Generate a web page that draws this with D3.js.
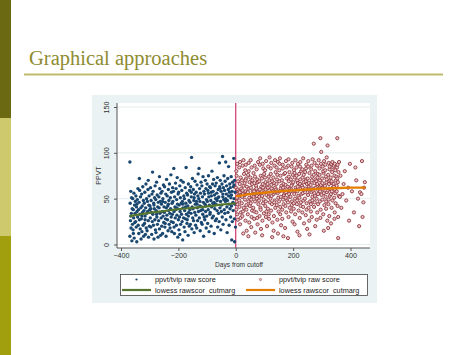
<!DOCTYPE html>
<html>
<head>
<meta charset="utf-8">
<script src="https://cdn.jsdelivr.net/npm/d3@7"></script>
<style>
  body { margin: 0; background: #fff; }
  svg { display: block; }
</style>
</head>
<body>
<div id="chart"></div>
<script>

// data
const slideTitle = "Graphical approaches";
const yTicks = [0, 50, 100, 150];
const xTicks = [-400, -200, 0, 200, 400];
const yLabel = "PPVT";
const xLabel = "Days from cutoff";
const legendLabels = ["ppvt/tvip raw score", "lowess rawscor  cutmarg"];

// [days from cutoff, raw score] before the cutoff
const leftScores = [
[-369,9],[-368,45],[-367,26],[-366,58],[-365,18],[-364,34],[-363,51],[-362,4],[-361,39],[-360,22],[-369,90],[-366,31],
[-359,50],[-358,16],[-357,38],[-356,29],[-355,56],[-354,7],[-353,43],[-352,24],[-351,34],[-350,47],[-357,12],
[-349,25],[-348,53],[-347,19],[-346,41],[-345,3],[-344,36],[-343,49],[-342,30],[-341,61],[-340,21],[-345,44],
[-339,38],[-338,12],[-337,46],[-336,27],[-335,59],[-334,33],[-333,17],[-332,52],[-331,40],[-330,6],[-336,72],
[-329,28],[-328,55],[-327,14],[-326,42],[-325,35],[-324,63],[-323,21],[-322,48],[-321,9],[-320,37],[-327,31],
[-319,45],[-318,23],[-317,57],[-316,31],[-315,11],[-314,40],[-313,66],[-312,18],[-311,50],[-310,34],[-316,27],
[-309,15],[-308,47],[-307,36],[-306,60],[-305,26],[-304,8],[-303,43],[-302,53],[-301,20],[-300,38],[-305,70],
[-299,42],[-298,29],[-297,62],[-296,19],[-295,48],[-294,35],[-293,11],[-292,55],[-291,25],[-290,79],[-296,39],
[-289,33],[-288,58],[-287,21],[-286,45],[-285,6],[-284,39],[-283,51],[-282,27],[-281,64],[-280,16],[-285,43],
[-279,49],[-278,13],[-277,37],[-276,68],[-275,30],[-274,54],[-273,22],[-272,41],[-271,8],[-270,46],[-276,33],
[-269,26],[-268,52],[-267,40],[-266,17],[-265,61],[-264,34],[-263,47],[-262,10],[-261,56],[-260,29],[-266,74],
[-259,44],[-258,20],[-257,58],[-256,36],[-255,12],[-254,50],[-253,31],[-252,65],[-251,24],[-250,41],[-255,47],
[-249,35],[-248,63],[-247,19],[-246,46],[-245,28],[-244,55],[-243,9],[-242,40],[-241,71],[-240,32],[-246,23],
[-239,53],[-238,27],[-237,42],[-236,15],[-235,60],[-234,37],[-233,48],[-232,22],[-231,66],[-230,34],[-235,44],
[-229,18],[-228,51],[-227,39],[-226,76],[-225,30],[-224,57],[-223,14],[-222,45],[-221,33],[-220,62],[-225,25],
[-219,47],[-218,24],[-217,58],[-216,83],[-215,36],[-214,12],[-213,52],[-212,41],[-211,29],[-210,67],[-215,19],
[-209,38],[-208,61],[-207,21],[-206,49],[-205,32],[-204,73],[-203,44],[-202,8],[-201,55],[-200,27],[-205,40],
[-199,57],[-198,16],[-197,43],[-196,30],[-195,64],[-194,36],[-193,51],[-192,22],[-191,70],[-190,45],[-195,11],
[-189,33],[-188,59],[-187,25],[-186,47],[-185,5],[-184,40],[-183,68],[-182,29],[-181,53],[-180,19],[-185,44],
[-179,50],[-178,37],[-177,14],[-176,62],[-175,28],[-174,45],[-173,84],[-172,33],[-171,56],[-170,23],[-175,41],
[-169,27],[-168,54],[-167,42],[-166,10],[-165,66],[-164,35],[-163,48],[-162,20],[-161,59],[-160,38],[-165,31],
[-159,46],[-158,22],[-157,63],[-156,34],[-155,52],[-154,95],[-153,17],[-152,41],[-151,72],[-150,29],[-155,57],
[-149,39],[-148,60],[-147,26],[-146,48],[-145,13],[-144,55],[-143,35],[-142,69],[-141,44],[-140,21],[-145,51],
[-139,32],[-138,57],[-137,47],[-136,18],[-135,65],[-134,40],[-133,26],[-132,53],[-131,77],[-130,36],[-135,44],
[-129,50],[-128,83],[-127,29],[-126,61],[-125,42],[-124,15],[-123,56],[-122,37],[-121,68],[-120,24],[-125,47],
[-119,41],[-118,64],[-117,22],[-116,52],[-115,33],[-114,74],[-113,46],[-112,9],[-111,58],[-110,30],[-115,38],
[-109,55],[-108,27],[-107,44],[-106,70],[-105,36],[-104,61],[-103,18],[-102,49],[-101,31],[-100,66],[-105,42],
[-99,47],[-98,23],[-97,59],[-96,38],[-95,75],[-94,52],[-93,14],[-92,43],[-91,63],[-90,33],[-95,56],
[-89,35],[-88,62],[-87,48],[-86,20],[-85,57],[-84,41],[-83,80],[-82,29],[-81,66],[-80,45],[-85,53],
[-79,58],[-78,31],[-77,71],[-76,46],[-75,12],[-74,54],[-73,39],[-72,64],[-71,26],[-70,50],[-75,43],
[-69,44],[-68,67],[-67,28],[-66,56],[-65,37],[-64,73],[-63,19],[-62,51],[-61,60],[-60,34],[-65,48],
[-59,52],[-58,25],[-57,89],[-56,63],[-55,40],[-54,70],[-53,47],[-52,16],[-51,58],[-50,36],[-55,61],
[-49,43],[-48,66],[-47,30],[-46,96],[-45,55],[-44,22],[-43,62],[-42,49],[-41,75],[-40,38],[-45,52],
[-39,59],[-38,34],[-37,69],[-36,47],[-35,90],[-34,27],[-33,55],[-32,64],[-31,41],[-30,13],[-35,50],
[-29,48],[-28,72],[-27,35],[-26,60],[-25,85],[-24,44],[-23,21],[-22,57],[-21,66],[-20,39],[-25,53],
[-19,62],[-18,30],[-17,51],[-16,74],[-15,42],[-14,5],[-13,58],[-12,25],[-11,68],[-10,46],[-15,54],
[-9,37],[-8,63],[-7,94],[-6,50],[-5,28],[-4,70],[-3,44],[-2,57],[-1,19],[-6,65],[-4,3]
];

// [days from cutoff, raw score] after the cutoff
const rightScores = [
[1,62],[2,38],[3,75],[4,51],[5,88],[6,44],[7,27],[8,69],[9,56],[2,80],[5,33],[7,60],[4,47],
[11,58],[12,84],[13,41],[14,66],[15,22],[16,53],[17,73],[18,35],[19,61],[12,48],[15,90],[17,29],[14,57],
[21,45],[22,70],[23,31],[24,86],[25,55],[26,12],[27,64],[28,40],[29,77],[22,52],[25,36],[27,92],[24,59],
[31,67],[32,49],[33,81],[34,26],[35,58],[36,72],[37,43],[38,15],[39,63],[32,54],[35,87],[37,38],[34,70],
[41,56],[42,33],[43,76],[44,47],[45,89],[46,61],[47,24],[48,68],[49,42],[42,57],[45,80],[47,51],[44,9],
[51,73],[52,45],[53,62],[54,19],[55,84],[56,53],[57,37],[58,70],[59,58],[52,92],[55,30],[57,66],[54,49],
[61,40],[62,78],[63,55],[64,28],[65,67],[66,86],[67,47],[68,13],[69,60],[62,52],[65,36],[67,74],[64,58],
[71,64],[72,35],[73,82],[74,50],[75,71],[76,22],[77,57],[78,90],[79,44],[72,61],[75,29],[77,68],[74,53],
[81,48],[82,69],[83,31],[84,87],[85,56],[86,40],[87,75],[88,17],[89,63],[82,52],[85,94],[87,38],[84,60],
[91,72],[92,53],[93,26],[94,66],[95,45],[96,83],[97,59],[98,34],[99,77],[92,10],[95,62],[97,49],[94,88],
[101,57],[102,81],[103,42],[104,68],[105,30],[106,91],[107,54],[108,64],[109,20],[102,73],[105,47],[107,36],[104,60],
[111,66],[112,39],[113,85],[114,52],[115,74],[116,28],[117,59],[118,95],[119,46],[112,62],[115,33],[117,70],[114,56],
[121,50],[122,77],[123,37],[124,89],[125,61],[126,44],[127,69],[128,24],[129,58],[122,83],[125,53],[127,8],[124,65],
[131,73],[132,55],[133,31],[134,67],[135,86],[136,48],[137,62],[138,40],[139,79],[132,15],[135,57],[137,92],[134,46],
[141,60],[142,84],[143,43],[144,71],[145,27],[146,56],[147,90],[148,51],[149,36],[142,66],[145,76],[147,12],[144,58],
[151,47],[152,69],[153,88],[154,58],[155,33],[156,75],[157,52],[158,21],[159,64],[152,81],[155,41],[157,61],[154,94],
[161,70],[162,38],[163,59],[164,83],[165,49],[166,9],[167,66],[168,54],[169,77],[162,28],[165,62],[167,44],[164,87],
[171,56],[172,78],[173,42],[174,65],[175,91],[176,35],[177,60],[178,72],[179,48],[172,18],[175,57],[177,84],[174,51],
[181,63],[182,46],[183,86],[184,30],[185,69],[186,55],[187,79],[188,40],[189,61],[182,7],[185,74],[187,52],[184,93],
[191,52],[192,71],[193,36],[194,60],[195,85],[196,47],[197,66],[198,25],[199,76],[192,58],[195,43],[197,89],[194,64],
[201,68],[202,39],[203,81],[204,57],[205,22],[206,73],[207,50],[208,92],[209,62],[202,45],[205,78],[207,33],[204,55],
[211,59],[212,84],[213,44],[214,70],[215,14],[216,63],[217,88],[218,53],[219,37],[212,75],[215,58],[217,67],[214,48],
[221,77],[222,51],[223,29],[224,66],[225,90],[226,42],[227,61],[228,80],[229,55],[222,10],[225,71],[227,46],[224,85],
[231,64],[232,35],[233,73],[234,56],[235,94],[236,48],[237,68],[238,23],[239,59],[232,82],[235,41],[237,76],[234,62],
[241,50],[242,79],[243,61],[244,32],[245,71],[246,87],[247,45],[248,66],[249,17],[242,57],[245,83],[247,38],[244,69],
[251,72],[252,54],[253,91],[254,40],[255,63],[256,26],[257,78],[258,58],[259,47],[252,85],[255,67],[257,11],[254,60],
[261,65],[262,44],[263,82],[264,57],[265,30],[266,74],[267,52],[268,93],[269,61],[262,36],[265,70],[267,48],[264,86],
[271,58],[272,76],[273,41],[274,67],[275,89],[276,53],[277,20],[278,71],[279,62],[272,110],[275,46],[277,80],[274,56],
[281,69],[282,50],[283,86],[284,35],[285,64],[286,77],[287,44],[288,59],[289,92],[282,27],[285,73],[287,55],[284,66],
[291,61],[292,83],[293,47],[294,70],[295,116],[296,38],[297,65],[298,101],[299,54],[292,76],[295,29],[297,88],[294,58],
[301,72],[302,49],[303,85],[304,62],[305,33],[306,78],[307,56],[308,91],[309,43],[302,67],[305,80],[307,15],[304,60],
[311,64],[312,87],[313,52],[314,74],[315,39],[316,68],[317,95],[318,57],[319,26],[312,81],[315,47],[317,71],[320,108],
[321,59],[322,76],[323,44],[324,89],[325,66],[326,31],[327,82],[328,53],[329,70],[322,18],[325,61],[327,85],[324,49],
[331,73],[332,55],[333,88],[334,40],[335,67],[336,79],[337,48],[338,62],[339,84],[332,23],[335,58],[337,90],[334,69],
[341,66],[342,86],[343,51],[344,75],[345,35],[346,60],[347,81],[348,45],[349,70],[342,63],[345,88],[347,56],[344,28],
[351,74],[352,58],[353,84],[354,116],[355,42],[356,68],[357,7],[358,79],[359,53],[352,64],[355,87],[357,30],[354,72],
[365,75],[372,55],[380,80],[385,48],[392,62],[398,88],[405,58],[412,35],[420,70],[426,50],[433,57],[440,91],
[442,30],[445,46],[447,62],[438,55],[450,68],[368,40],[376,66],[395,26],[417,84],[430,20],[360,90],[363,52]
];

// lowess smooth on each side
const leftLowess = [[-370,31],[-330,33],[-290,35],[-250,36.5],[-200,38.5],[-150,40],[-100,41.5],[-50,43.5],[0,45]];
const rightLowess = [[0,52.5],[50,55],[100,56.5],[150,58],[200,59],[250,60],[300,61],[350,61.5],[400,62],[452,62]];

const W = 474, H = 355;
const svg = d3.select("#chart").append("svg")
	.attr("width", W)
	.attr("height", H);

// slide decoration: left bar, title, rule
svg.append("rect").attr("x", 0).attr("y", 0).attr("width", 11).attr("height", 118).attr("fill", "#6b6a12");
svg.append("rect").attr("x", 0).attr("y", 118).attr("width", 11).attr("height", 118).attr("fill", "#cfc96e");
svg.append("rect").attr("x", 0).attr("y", 236).attr("width", 11).attr("height", 119).attr("fill", "#a29f0e");

svg.append("text")
	.attr("x", 29)
	.attr("y", 65)
	.attr("font-family", "'Liberation Serif', 'DejaVu Serif', serif")
	.attr("font-size", 20.5)
	.attr("fill", "#8e8b30")
	.text(slideTitle);

svg.append("line")
	.attr("x1", 24).attr("x2", 443)
	.attr("y1", 74.5).attr("y2", 74.5)
	.attr("stroke", "#bdbb6b")
	.attr("stroke-width", 2);

// stata graph region + plot region
const plot = {left: 117, right: 370, top: 103, bottom: 248};

svg.append("rect")
	.attr("x", 92).attr("y", 95)
	.attr("width", 285).attr("height", 208)
	.attr("fill", "#eaf2f3");

svg.append("rect")
	.attr("x", plot.left).attr("y", plot.top)
	.attr("width", plot.right - plot.left)
	.attr("height", plot.bottom - plot.top)
	.attr("fill", "#fff");

const xScale = d3.scaleLinear()
	.domain([-400, 400])
	.range([121, 350.5]);

const yScale = d3.scaleLinear()
	.domain([0, 150])
	.range([244.5, 107]);

// grid lines
svg.append("g")
	.selectAll("line")
	.data(yTicks)
	.join("line")
	.attr("x1", plot.left).attr("x2", plot.right)
	.attr("y1", d => yScale(d)).attr("y2", d => yScale(d))
	.attr("stroke", "#e4ecee")
	.attr("stroke-width", 1);

// cutoff line
svg.append("line")
	.attr("x1", xScale(0)).attr("x2", xScale(0))
	.attr("y1", plot.top).attr("y2", plot.bottom)
	.attr("stroke", "#d0245a")
	.attr("stroke-width", 1.1);

// scatter
svg.append("g")
	.selectAll("circle")
	.data(leftScores)
	.join("circle")
	.attr("cx", d => xScale(d[0]))
	.attr("cy", d => yScale(d[1]))
	.attr("r", 1.7)
	.attr("fill", "#1a476f");

svg.append("g")
	.selectAll("circle")
	.data(rightScores)
	.join("circle")
	.attr("cx", d => xScale(d[0]))
	.attr("cy", d => yScale(d[1]))
	.attr("r", 1.6)
	.attr("fill", "#e9c9cd")
	.attr("stroke", "#90353b")
	.attr("stroke-width", 0.9);

// lowess lines
const line = d3.line()
	.x(d => xScale(d[0]))
	.y(d => yScale(d[1]))
	.curve(d3.curveMonotoneX);

svg.append("path")
	.datum(leftLowess)
	.attr("d", line)
	.attr("fill", "none")
	.attr("stroke", "#55752f")
	.attr("stroke-width", 2.2);

svg.append("path")
	.datum(rightLowess)
	.attr("d", line)
	.attr("fill", "none")
	.attr("stroke", "#e37e00")
	.attr("stroke-width", 2.4);

// axes
const axisFont = "'Liberation Sans', Arial, sans-serif";

const leftAxis = svg.append("g")
	.attr("transform", `translate(${plot.left},0)`)
	.call(d3.axisLeft(yScale).tickValues(yTicks).tickSize(3).tickSizeOuter(0));
leftAxis.select(".domain").remove();
leftAxis.selectAll(".tick line").attr("stroke", "#555");
leftAxis.selectAll(".tick text")
	.attr("transform", "rotate(-90)")
	.attr("x", 0)
	.attr("y", -8)
	.attr("dy", 0)
	.attr("text-anchor", "middle")
	.attr("font-family", axisFont)
	.attr("font-size", 7.2)
	.attr("fill", "#333");

svg.append("line")
	.attr("x1", plot.left).attr("x2", plot.left)
	.attr("y1", plot.top).attr("y2", plot.bottom)
	.attr("stroke", "#555");

const bottomAxis = svg.append("g")
	.attr("transform", `translate(0,${plot.bottom})`)
	.call(d3.axisBottom(xScale).tickValues(xTicks).tickSize(3).tickSizeOuter(0));
bottomAxis.select(".domain").remove();
bottomAxis.selectAll(".tick line").attr("stroke", "#555");
bottomAxis.selectAll(".tick text")
	.attr("y", 5)
	.attr("font-family", axisFont)
	.attr("font-size", 7.2)
	.attr("fill", "#333");

svg.append("line")
	.attr("x1", plot.left).attr("x2", plot.right)
	.attr("y1", plot.bottom).attr("y2", plot.bottom)
	.attr("stroke", "#555");

svg.append("text")
	.attr("transform", `translate(101,${(plot.top + plot.bottom) / 2}) rotate(-90)`)
	.attr("text-anchor", "middle")
	.attr("font-family", axisFont)
	.attr("font-size", 7)
	.attr("fill", "#333")
	.text(yLabel);

svg.append("text")
	.attr("x", 239)
	.attr("y", 266.5)
	.attr("text-anchor", "middle")
	.attr("font-family", axisFont)
	.attr("font-size", 6.6)
	.attr("fill", "#333")
	.text(xLabel);

// legend
const legend = svg.append("g");
legend.append("rect")
	.attr("x", 120.5).attr("y", 274.5)
	.attr("width", 247).attr("height", 21)
	.attr("fill", "#fff")
	.attr("stroke", "#444")
	.attr("stroke-width", 0.8);

const legendCols = [
	{x: 122, dot: "#1a476f", dotStroke: "none", line: "#55752f"},
	{x: 246, dot: "#e9c9cd", dotStroke: "#90353b", line: "#e37e00"}
];

legendCols.forEach(c => {
	legend.append("circle")
		.attr("cx", c.x + 14.5).attr("cy", 279.5)
		.attr("r", 1.1)
		.attr("fill", c.dot)
		.attr("stroke", c.dotStroke)
		.attr("stroke-width", 0.6);
	legend.append("line")
		.attr("x1", c.x).attr("x2", c.x + 29)
		.attr("y1", 290).attr("y2", 290)
		.attr("stroke", c.line)
		.attr("stroke-width", 2.2);
	legend.selectAll(null)
		.data(legendLabels)
		.join("text")
		.attr("x", c.x + 33)
		.attr("y", (d, i) => i === 0 ? 282 : 292.5)
		.attr("font-family", axisFont)
		.attr("font-size", 7.3)
		.attr("fill", "#222")
		.style("white-space", "pre")
		.text(d => d);
});

</script>
</body>
</html>
